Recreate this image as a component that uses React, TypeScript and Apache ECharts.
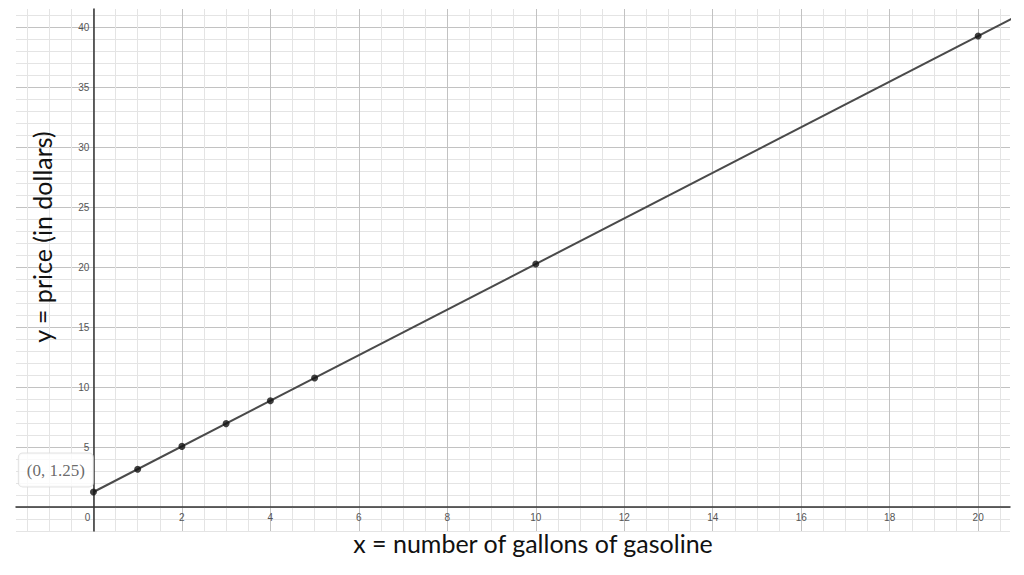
import React, { useEffect, useRef } from "react";
import * as echarts from "echarts";

// Data points (gallons, price)
const gallons = [0, 1, 2, 3, 4, 5, 10, 20];
const prices = [1.25, 3.15, 5.05, 6.95, 8.85, 10.75, 20.25, 39.25];
// Fitted line end points (starts at the y-intercept, runs off the right edge)
const lineX = [0, 21];
const lineY = [1.25, 41.15];
const interceptLabel = "(0, 1.25)";
const xTitle = "x = number of gallons of gasoline";
const yTitle = "y = price (in dollars)";

const W = 1024;
const H = 575;
const GRID = { left: 16, right: 14, top: 9, bottom: 44 };
const X_MIN = -1.75;
const X_MAX = 20.72;
const Y_MIN = -2;
const Y_MAX = 41.5;

const MINOR = "#e4e4e4";
const MAJOR = "#c2c2c2";
const NONE = "rgba(0,0,0,0)";
const AXIS = { color: "#333", width: 1.5 };
const TICK_FONT = { fontFamily: "Liberation Sans", fontSize: 10, color: "#555" };
const TITLE_FONT = "Lato";

export default function App() {
  const ref = useRef<HTMLDivElement>(null);
  useEffect(() => {
    if (!ref.current) return;
    const chart = echarts.init(ref.current, undefined, { renderer: "svg" });
    const plotW = W - GRID.left - GRID.right;
    const plotH = H - GRID.top - GRID.bottom;
    // place each axis (line + labels) at the other axis' zero
    const yAxisOffset = -((0 - X_MIN) / (X_MAX - X_MIN)) * plotW;
    const xAxisOffset = -((0 - Y_MIN) / (Y_MAX - Y_MIN)) * plotH;

    const scatterData = gallons.map((g, i) => {
      const item: any = { value: [g, prices[i]] };
      if (i === 0) {
        item.label = {
          show: true,
          formatter: interceptLabel,
          position: "left",
          distance: 0,
          offset: [3, -22],
          fontFamily: "Liberation Serif",
          fontSize: 17,
          color: "#444",
          backgroundColor: "#fff",
          borderColor: "#dcdcdc",
          borderWidth: 1,
          borderRadius: 4,
          padding: [8, 8],
        };
      }
      return item;
    });
    chart.setOption({
      animation: false,
      backgroundColor: "#fff",
      grid: { ...GRID, containLabel: false, outerBoundsMode: "none" },
      graphic: [
        {
          type: "text",
          x: 533,
          y: 543,
          z: 100,
          style: {
            text: xTitle,
            fontFamily: TITLE_FONT,
            fontSize: 25,
            fill: "#111",
            align: "center",
            verticalAlign: "middle",
          },
        },
        {
          type: "text",
          x: 42,
          y: 237,
          z: 100,
          rotation: Math.PI / 2,
          style: {
            text: yTitle,
            fontFamily: TITLE_FONT,
            fontSize: 25,
            fill: "#111",
            align: "center",
            verticalAlign: "middle",
          },
        },
      ],
      xAxis: {
        type: "value",
        min: X_MIN,
        max: X_MAX,
        interval: 0.25,
        offset: xAxisOffset,
        axisLine: { show: true, onZero: false, lineStyle: AXIS },
        axisTick: { show: false },
        splitLine: {
          show: true,
          showMaxLine: false,
          lineStyle: { width: 1, color: [NONE, MINOR, NONE, MINOR, NONE, MINOR, NONE, MAJOR] },
        },
        axisLabel: {
          margin: 5,
          ...TICK_FONT,
          showMinLabel: true,
          showMaxLabel: true,
          formatter: (v: number) => {
            const r = Math.round(v);
            if (Math.abs(v - r) > 1e-6 || r % 2 !== 0) return "";
            return r === 0 ? "{z|0}" : String(r);
          },
          rich: {
            z: { ...TICK_FONT, padding: [0, 12, 0, 0] },
          },
        },
      },
      yAxis: {
        type: "value",
        min: Y_MIN,
        max: Y_MAX,
        interval: 1,
        offset: yAxisOffset,
        axisLine: { show: true, onZero: false, lineStyle: AXIS },
        axisTick: { show: false },
        splitLine: {
          show: true,
          showMaxLine: false,
          lineStyle: { width: 1, color: [MINOR, MINOR, MAJOR, MINOR, MINOR] },
        },
        axisLabel: {
          margin: 4,
          ...TICK_FONT,
          formatter: (v: number) => {
            const r = Math.round(v);
            if (Math.abs(v - r) > 1e-6 || r % 5 !== 0 || r === 0) return "";
            return String(r);
          },
        },
      },
      series: [
        {
          type: "line",
          data: lineX.map((x, i) => [x, lineY[i]]),
          showSymbol: false,
          clip: true,
          lineStyle: { color: "#4a4a4a", width: 2 },
          z: 2,
        },
        {
          type: "scatter",
          data: scatterData,
          symbolSize: 7,
          itemStyle: { color: "#111" },
          z: 3,
        },
      ],
    });
    return () => chart.dispose();
  }, []);
  return (
    <div
      ref={ref}
      style={{ position: "fixed", left: 0, top: 0, width: W, height: H, background: "#fff" }}
    />
  );
}
